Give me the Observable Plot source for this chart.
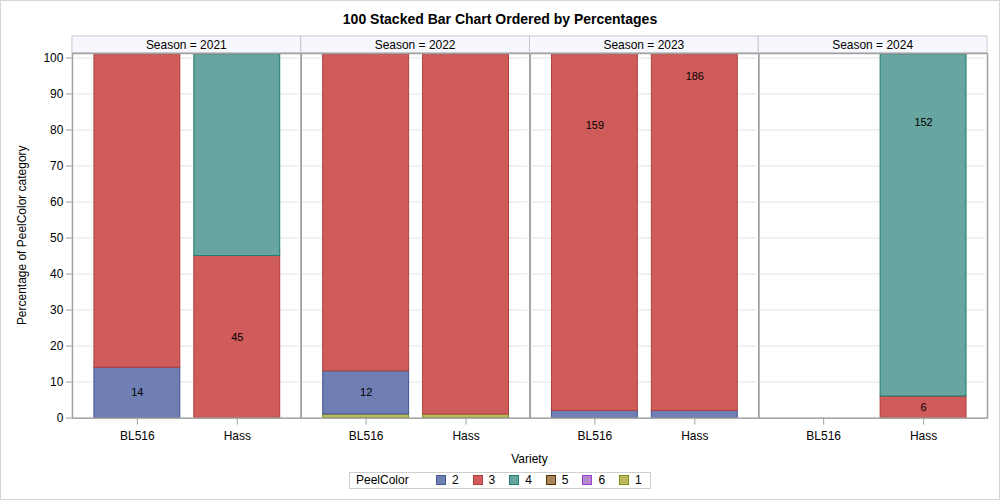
<!DOCTYPE html>
<html>
<head>
<meta charset="utf-8">
<script src="https://cdn.jsdelivr.net/npm/d3@7"></script>
<script src="https://cdn.jsdelivr.net/npm/@observablehq/plot@0.6"></script>
<style>
  html, body { margin: 0; padding: 0; background: #fff; }
  #wrap { position: relative; width: 1000px; height: 500px; box-sizing: border-box; border: 1px solid #d6d6d6; overflow: hidden; font-family: "Liberation Sans", Arial, sans-serif; }
  #title { position: absolute; left: -1px; top: 10px; width: 1000px; text-align: center; font-weight: bold; font-size: 14px; line-height: 16px; color: #000; }
  #chart { position: absolute; left: -1px; top: 34px; }
  #chart svg .tick line, #chart svg g[aria-label="y-axis tick"] path, #chart svg g[aria-label="x-axis tick"] path { stroke: #a0a0a0; }
  #legend { position: absolute; left: 348px; top: 471px; width: 300px; height: 15px; border: 1px solid #cfcfcf; font-size: 12px; line-height: 15px; color: #000; white-space: nowrap; }
  #legend .lt { position: absolute; left: 6px; top: 0; }
  #legend .it { position: absolute; top: 0; }
  #legend .sw { position: absolute; top: 2px; left: 0; width: 8px; height: 8px; border: 1px solid; }
  #legend .lb { position: absolute; left: 16px; top: 0; }
</style>
</head>
<body>
<div id="wrap">
  <div id="title">100 Stacked Bar Chart Ordered by Percentages</div>
  <div id="chart"></div>
  <div id="legend"></div>
</div>
<script>
// ---- data ----
const seasons = [2021, 2022, 2023, 2024];
const varieties = ["BL516", "Hass"];
const legendColors = [2, 3, 4, 5, 6, 1];
const stackOrder = [1, 2, 3, 4, 5, 6];

const segSeason  = [2021, 2021, 2021, 2021, 2022, 2022, 2022, 2022, 2022, 2023, 2023, 2023, 2023, 2024, 2024];
const segVariety = ["BL516", "BL516", "Hass", "Hass", "BL516", "BL516", "BL516", "Hass", "Hass", "BL516", "BL516", "Hass", "Hass", "Hass", "Hass"];
const segColor   = [2, 3, 3, 4, 1, 2, 3, 1, 3, 2, 3, 2, 3, 3, 4];
const segPct     = [14, 87, 45, 56, 1, 12, 88, 1, 100, 2, 99, 2, 99, 6, 95];

const labelSeason  = [2021, 2021, 2022, 2023, 2023, 2024, 2024];
const labelVariety = ["BL516", "Hass", "BL516", "BL516", "Hass", "Hass", "Hass"];
const labelText    = ["14", "45", "12", "159", "186", "152", "6"];
const labelPct     = [7, 22.5, 7, 81.3, 94.9, 82, 3];

const yTicks = [0, 10, 20, 30, 40, 50, 60, 70, 80, 90, 100];

const fillColors   = {1: "#BABC5C", 2: "#6F7EB3", 3: "#D05B5B", 4: "#66A5A0", 5: "#A9865B", 6: "#B689CD"};
const strokeColors = {1: "#7F8E1F", 2: "#445694", 3: "#B0403A", 4: "#1E7A6E", 5: "#543005", 6: "#9D3CDB"};

// ---- build stacked rows ----
const rows = segSeason.map((s, i) => ({season: s, variety: segVariety[i], color: segColor[i], pct: segPct[i]}));
const stacked = [];
for (const s of seasons) for (const v of varieties) {
  let acc = 0;
  for (const c of stackOrder) {
    for (const r of rows) if (r.season === s && r.variety === v && r.color === c) {
      stacked.push({...r, y1: acc, y2: acc + r.pct});
      acc += r.pct;
    }
  }
}
const labels = labelText.map((t, i) => ({season: labelSeason[i], variety: labelVariety[i], text: t, pct: labelPct[i]}));

const W = 1000, H = 432, mL = 72, mR = 12, mT = 18, mB = 49;

const marks = [
  Plot.ruleY(yTicks.filter(d => d > 0), {stroke: "#ececec", strokeWidth: 1.5, insetLeft: 2, insetRight: 2})
];
for (const c of stackOrder) {
  const d = stacked.filter(r => r.color === c);
  if (d.length) marks.push(Plot.barY(d, {fx: "season", x: "variety", y1: "y1", y2: "y2", fill: fillColors[c], stroke: strokeColors[c], strokeWidth: 1}));
}
marks.push(Plot.text(labels, {fx: "season", x: "variety", y: "pct", text: "text", fontSize: 11, fill: "#000"}));
marks.push(Plot.frame({stroke: "#a0a0a0", strokeWidth: 1.5}));

const chart = Plot.plot({
  width: W, height: H,
  marginLeft: mL, marginRight: mR, marginTop: mT, marginBottom: mB,
  style: {fontFamily: "Liberation Sans, Arial, sans-serif", fontSize: "12px", color: "#000", background: "transparent", overflow: "visible"},
  fx: {domain: seasons, paddingInner: 0, paddingOuter: 0, axis: null, label: null},
  x: {domain: varieties, paddingInner: 0.14, paddingOuter: 0.215, tickSize: 7, tickPadding: 6, label: null},
  y: {domain: [0, 101.25], ticks: yTicks, tickSize: 6, tickPadding: 3, label: null, tickFormat: d => String(d)},
  marks
});
document.getElementById("chart").appendChild(chart);

// ---- facet headers & axis titles using the plot's own fx scale ----
const svg = d3.select(chart);
const fxs = chart.scale("fx");
const band = fxs.apply ? null : d3.scaleBand().domain(fxs.domain).range(fxs.range).paddingInner(0).paddingOuter(0);
const fxPos = s => fxs.apply ? fxs.apply(s) : band(s);
const bw = fxs.bandwidth != null ? fxs.bandwidth : band.bandwidth();
const hg = svg.append("g").attr("class", "headers");
for (const s of seasons) {
  const x0 = fxPos(s);
  hg.append("rect").attr("x", x0).attr("y", 1).attr("width", bw).attr("height", mT - 1.5)
    .attr("fill", "#F7F8FD").attr("stroke", "#c8c8cc").attr("stroke-width", 1);
  hg.append("text").attr("x", x0 + bw / 2).attr("y", 1 + (mT - 1.5) / 2).attr("dy", "0.36em")
    .attr("text-anchor", "middle").attr("font-size", 12).attr("fill", "#000")
    .text(`Season = ${s}`);
}
svg.append("text").attr("x", (mL + W - mR) / 2).attr("y", H - 4)
  .attr("text-anchor", "middle").attr("font-size", 12).attr("fill", "#000").text("Variety");
svg.append("text").attr("transform", `translate(22,${(mT + H - mB) / 2}) rotate(-90)`)
  .attr("text-anchor", "middle").attr("font-size", 12).attr("fill", "#000").attr("dy", "0.36em")
  .text("Percentage of PeelColor category");

// ---- legend ----
const leg = document.getElementById("legend");
leg.innerHTML = `<span class="lt">PeelColor</span>`;
legendColors.forEach((c, i) => {
  const it = document.createElement("span");
  it.className = "it";
  it.style.left = (86 + i * 36.6) + "px";
  it.innerHTML = `<span class="sw" style="background:${fillColors[c]};border-color:${strokeColors[c]}"></span><span class="lb">${c}</span>`;
  leg.appendChild(it);
});
</script>
</body>
</html>
